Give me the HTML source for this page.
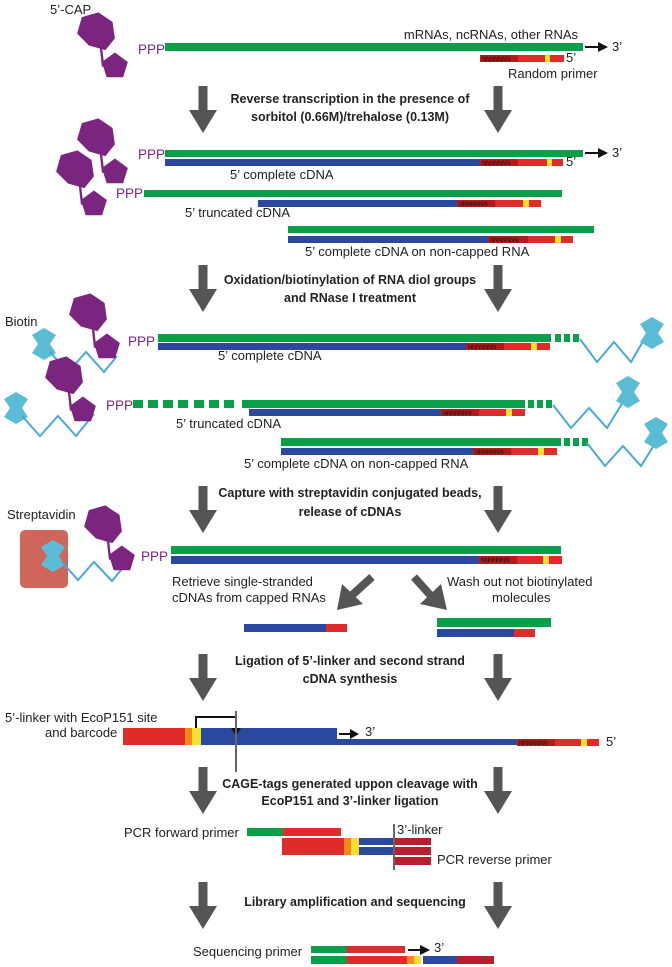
<!DOCTYPE html>
<html><head><meta charset="utf-8"><style>
html,body{margin:0;padding:0;background:#fff}
svg{display:block}
text{font-family:"Liberation Sans",Arial,sans-serif;font-size:13px;fill:#222}
.b{font-weight:bold;font-size:12.5px;text-anchor:middle}
.p{fill:#7b2580;font-size:13.5px}
.n{font-size:6px;fill:#111;letter-spacing:-0.3px}
</style></head><body>
<svg width="672" height="967" viewBox="0 0 672 967" xmlns="http://www.w3.org/2000/svg">
<defs>
<g id="cap">
  <g transform="scale(1.18)">
  <polygon points="-12,-16 2,-20 14,-12 16,2 8,12 -6,8 -16,-2" fill="#7b2580"/>
  <line x1="4" y1="8" x2="6" y2="26" stroke="#7b2580" stroke-width="2"/>
  <polygon points="16,14 27,22 23,35 9,35 5,22" fill="#7b2580"/>
  </g>
</g>
<g id="bio">
  <polygon points="-12,-9 0,-16 12,-9 6,0 12,9 0,16 -12,9 -6,0" fill="#5bbcd6"/>
</g>
<g id="arr">
  <rect x="-4.5" y="0" width="9" height="25" fill="#555"/>
  <polygon points="-14,24 14,24 0,47" fill="#555"/>
</g>
</defs>

<!-- Section 1 -->
<text x="50" y="14">5’-CAP</text>
<use href="#cap" x="96" y="36"/>
<text class="p" x="138" y="54">PPP</text>
<rect x="165" y="43" width="418" height="8" fill="#0aa04a"/>
<line x1="585" y1="47" x2="600" y2="47" stroke="#111" stroke-width="2"/><polygon points="598,42 608,47 598,52" fill="#111"/>
<text x="612" y="51">3’</text>
<text x="578" y="39" text-anchor="end">mRNAs, ncRNAs, other RNAs</text>
<rect x="480" y="55" width="84" height="7" fill="#e02b2b"/><rect x="480" y="55" width="38" height="7" fill="#b01c1c"/><text class="n" x="482" y="61">NNNNNNN</text><rect x="545" y="55" width="5" height="7" fill="#f5e12a"/>
<text x="566" y="62">5’</text>
<text x="508" y="78">Random primer</text>

<use href="#arr" x="203" y="86"/><use href="#arr" x="498" y="86"/>
<text class="b" x="350" y="103">Reverse transcription in the presence of</text>
<text class="b" x="350" y="121">sorbitol (0.66M)/trehalose (0.13M)</text>

<!-- Section 2 -->
<use href="#cap" x="96" y="142"/>
<text class="p" x="138" y="159">PPP</text>
<rect x="165" y="150" width="418" height="7" fill="#0aa04a"/>
<line x1="585" y1="153" x2="600" y2="153" stroke="#111" stroke-width="2"/><polygon points="598,148 608,153 598,158" fill="#111"/>
<text x="612" y="157">3’</text>
<rect x="165" y="159" width="398" height="7" fill="#2a48a0"/>
<rect x="480" y="159" width="83" height="7" fill="#e02b2b"/><rect x="480" y="159" width="38" height="7" fill="#b01c1c"/><text class="n" x="482" y="165">NNNNNNN</text><rect x="547" y="159" width="5" height="7" fill="#f5e12a"/>
<text x="566" y="166">5’</text>
<text x="230" y="179">5’ complete cDNA</text>

<use href="#cap" x="75" y="174"/>
<text class="p" x="116" y="198">PPP</text>
<rect x="144" y="190" width="418" height="7" fill="#0aa04a"/>
<rect x="258" y="200" width="283" height="7" fill="#2a48a0"/>
<rect x="457" y="200" width="84" height="7" fill="#e02b2b"/><rect x="457" y="200" width="38" height="7" fill="#b01c1c"/><text class="n" x="459" y="206">NNNNNNN</text><rect x="523" y="200" width="6" height="7" fill="#f5e12a"/>
<text x="185" y="217">5’ truncated cDNA</text>

<rect x="288" y="226" width="306" height="7" fill="#0aa04a"/>
<rect x="288" y="236" width="285" height="7" fill="#2a48a0"/>
<rect x="488" y="236" width="85" height="7" fill="#e02b2b"/><rect x="488" y="236" width="40" height="7" fill="#b01c1c"/><text class="n" x="490" y="242">NNNNNNN</text><rect x="555" y="236" width="6" height="7" fill="#f5e12a"/>
<text x="305" y="256">5’ complete cDNA on non-capped RNA</text>

<use href="#arr" x="203" y="265"/><use href="#arr" x="498" y="265"/>
<text class="b" x="350" y="284">Oxidation/biotinylation of RNA diol groups</text>
<text class="b" x="350" y="302">and RNase I treatment</text>

<!-- Section 3 -->
<text x="5" y="326">Biotin</text>
<use href="#bio" x="44" y="344"/>
<polyline points="50,352 68,372 86,352 104,372 117,356" fill="none" stroke="#4aa8d8" stroke-width="2"/>
<use href="#cap" x="88" y="317"/>
<text class="p" x="128" y="346">PPP</text>
<rect x="158" y="334" width="393" height="8" fill="#0aa04a"/>
<rect x="555" y="334" width="6" height="8" fill="#0aa04a"/><rect x="564" y="334" width="6" height="8" fill="#0aa04a"/><rect x="573" y="334" width="6" height="8" fill="#0aa04a"/>
<polyline points="580,339 597,362 614,342 631,362 645,338" fill="none" stroke="#4aa8d8" stroke-width="2"/>
<use href="#bio" x="652" y="333"/>
<rect x="158" y="343" width="392" height="7" fill="#2a48a0"/>
<rect x="466" y="343" width="84" height="7" fill="#e02b2b"/><rect x="466" y="343" width="38" height="7" fill="#b01c1c"/><text class="n" x="468" y="349">NNNNNNN</text><rect x="531" y="343" width="6" height="7" fill="#f5e12a"/>
<text x="218" y="360">5’ complete cDNA</text>

<use href="#bio" x="16" y="408"/>
<polyline points="22,416 40,436 58,416 76,436 94,414" fill="none" stroke="#4aa8d8" stroke-width="2"/>
<use href="#cap" x="64" y="380"/>
<text class="p" x="106" y="410">PPP</text>
<g fill="#0aa04a">
<rect x="133" y="400" width="10" height="8"/><rect x="148" y="400" width="10" height="8"/><rect x="163" y="400" width="10" height="8"/><rect x="178" y="400" width="10" height="8"/><rect x="194" y="400" width="10" height="8"/><rect x="209" y="400" width="10" height="8"/><rect x="224" y="400" width="10" height="8"/>
<rect x="242" y="400" width="283" height="8"/><rect x="528" y="400" width="6" height="8"/><rect x="537" y="400" width="6" height="8"/><rect x="546" y="400" width="6" height="8"/>
</g>
<polyline points="553,405 571,428 589,408 607,428 623,402" fill="none" stroke="#4aa8d8" stroke-width="2"/>
<use href="#bio" x="628" y="392"/>
<rect x="249" y="409" width="276" height="7" fill="#2a48a0"/>
<rect x="441" y="409" width="84" height="7" fill="#e02b2b"/><rect x="441" y="409" width="38" height="7" fill="#b01c1c"/><text class="n" x="443" y="415">NNNNNNN</text><rect x="506" y="409" width="6" height="7" fill="#f5e12a"/>
<text x="176" y="428">5’ truncated cDNA</text>

<rect x="281" y="438" width="280" height="8" fill="#0aa04a"/>
<rect x="564" y="438" width="6" height="8" fill="#0aa04a"/><rect x="573" y="438" width="6" height="8" fill="#0aa04a"/><rect x="582" y="438" width="6" height="8" fill="#0aa04a"/>
<polyline points="587,443 605,466 623,446 641,466 656,442" fill="none" stroke="#4aa8d8" stroke-width="2"/>
<use href="#bio" x="656" y="433"/>
<rect x="281" y="448" width="276" height="7" fill="#2a48a0"/>
<rect x="473" y="448" width="84" height="7" fill="#e02b2b"/><rect x="473" y="448" width="38" height="7" fill="#b01c1c"/><text class="n" x="475" y="454">NNNNNNN</text><rect x="538" y="448" width="6" height="7" fill="#f5e12a"/>
<text x="244" y="468">5’ complete cDNA on non-capped RNA</text>

<use href="#arr" x="203" y="486"/><use href="#arr" x="498" y="486"/>
<text class="b" x="350" y="497">Capture with streptavidin conjugated beads,</text>
<text class="b" x="350" y="516">release of cDNAs</text>

<!-- Section 4 -->
<text x="7" y="519">Streptavidin</text>
<rect x="20" y="530" width="48" height="58" rx="5" fill="#d0655c"/>
<use href="#bio" x="53" y="556"/>
<polyline points="62,562 78,580 94,562 112,581 126,564" fill="none" stroke="#4aa8d8" stroke-width="2"/>
<use href="#cap" x="103" y="529"/>
<text class="p" x="141" y="561">PPP</text>
<rect x="171" y="546" width="390" height="8" fill="#0aa04a"/>
<rect x="171" y="556" width="391" height="8" fill="#2a48a0"/>
<rect x="479" y="556" width="83" height="8" fill="#e02b2b"/><rect x="479" y="556" width="38" height="8" fill="#b01c1c"/><text class="n" x="481" y="562">NNNNNNN</text><rect x="543" y="556" width="6" height="8" fill="#f5e12a"/>
<text x="172" y="586">Retrieve single-stranded</text>
<text x="172" y="602">cDNAs from capped RNAs</text>
<text x="447" y="586">Wash out not biotinylated</text>
<text x="492" y="602">molecules</text>
<line x1="372" y1="577" x2="350" y2="597" stroke="#555" stroke-width="8"/><polygon points="337,610 342,584 363,604" fill="#555"/>
<line x1="414" y1="577" x2="432" y2="597" stroke="#555" stroke-width="8"/><polygon points="447,610 420,604 441,584" fill="#555"/>
<rect x="244" y="624" width="82" height="8" fill="#2a48a0"/><rect x="326" y="624" width="21" height="8" fill="#e02b2b"/>
<rect x="437" y="618" width="114" height="9" fill="#0aa04a"/>
<rect x="437" y="629" width="77" height="8" fill="#2a48a0"/><rect x="514" y="629" width="21" height="8" fill="#e02b2b"/>

<use href="#arr" x="203" y="654"/><use href="#arr" x="498" y="654"/>
<text class="b" x="350" y="665">Ligation of 5’-linker and second strand</text>
<text class="b" x="350" y="683">cDNA synthesis</text>

<!-- Section 5 -->
<text x="5" y="722">5’-linker with EcoP151 site</text>
<text x="45" y="737">and barcode</text>
<rect x="123" y="728" width="62" height="17" fill="#e02b2b"/>
<rect x="185" y="728" width="7" height="17" fill="#f08a1c"/>
<rect x="192" y="728" width="9" height="17" fill="#f5e12a"/>
<rect x="201" y="728" width="136" height="17" fill="#2a48a0"/>
<rect x="337" y="739" width="180" height="6" fill="#2a48a0"/>
<rect x="517" y="739" width="82" height="7" fill="#e02b2b"/><rect x="517" y="739" width="38" height="7" fill="#b01c1c"/><text class="n" x="519" y="745">NNNNNNN</text><rect x="581" y="739" width="6" height="7" fill="#f5e12a"/>
<text x="606" y="746">5’</text>
<line x1="339" y1="734" x2="352" y2="734" stroke="#111" stroke-width="2"/><polygon points="350,729 359,734 350,739" fill="#111"/>
<text x="365" y="736">3’</text>
<polyline points="196,728 196,717 236,717 236,730" fill="none" stroke="#111" stroke-width="2"/>
<polygon points="231,728 241,728 236,736" fill="#111"/>
<line x1="236" y1="711" x2="236" y2="772" stroke="#666" stroke-width="2"/>

<use href="#arr" x="203" y="767"/><use href="#arr" x="498" y="767"/>
<text class="b" x="350" y="788">CAGE-tags generated uppon cleavage with</text>
<text class="b" x="350" y="805">EcoP151 and 3’-linker ligation</text>

<!-- Section 6 -->
<text x="124" y="837">PCR forward primer</text>
<rect x="247" y="828" width="36" height="8" fill="#0aa04a"/><rect x="283" y="828" width="58" height="8" fill="#e02b2b"/>
<rect x="282" y="838" width="62" height="17" fill="#e02b2b"/>
<rect x="344" y="838" width="7" height="17" fill="#f08a1c"/>
<rect x="351" y="838" width="8" height="17" fill="#f5e12a"/>
<rect x="359" y="838" width="35" height="7" fill="#2a48a0"/><rect x="359" y="847" width="35" height="8" fill="#2a48a0"/>
<rect x="394" y="838" width="37" height="7" fill="#b81e2e"/><rect x="394" y="847" width="37" height="8" fill="#b81e2e"/><rect x="394" y="857" width="37" height="8" fill="#b81e2e"/>
<line x1="394" y1="824" x2="394" y2="870" stroke="#666" stroke-width="2"/>
<text x="397" y="834">3’-linker</text>
<text x="437" y="864">PCR reverse primer</text>

<use href="#arr" x="203" y="882"/><use href="#arr" x="498" y="882"/>
<text class="b" x="355" y="906">Library amplification and sequencing</text>

<text x="193" y="956">Sequencing primer</text>
<rect x="311" y="946" width="36" height="7" fill="#0aa04a"/><rect x="347" y="946" width="58" height="7" fill="#e02b2b"/>
<line x1="408" y1="950" x2="422" y2="950" stroke="#111" stroke-width="2"/><polygon points="420,945 430,950 420,955" fill="#111"/>
<text x="434" y="952">3’</text>
<rect x="311" y="956" width="36" height="8" fill="#0aa04a"/><rect x="347" y="956" width="60" height="8" fill="#e02b2b"/>
<rect x="407" y="956" width="7" height="8" fill="#f08a1c"/><rect x="414" y="956" width="7" height="8" fill="#f5e12a"/>
<rect x="423" y="956" width="34" height="8" fill="#2a48a0"/><rect x="457" y="956" width="37" height="8" fill="#b81e2e"/>
</svg>
</body></html>
